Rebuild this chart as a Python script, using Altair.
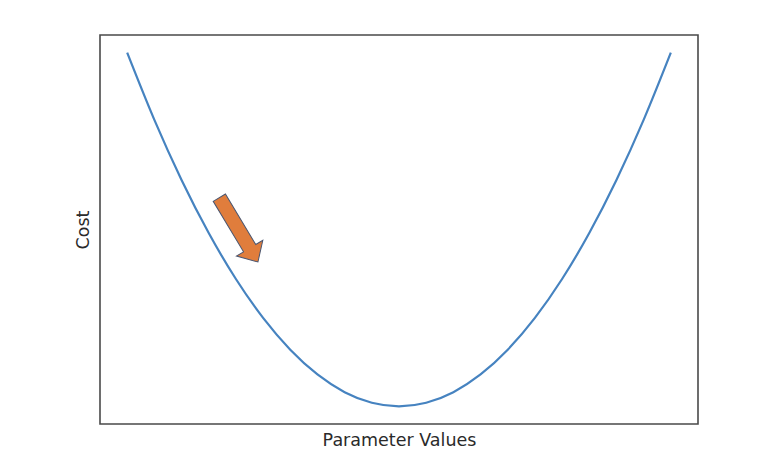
import altair as alt
import pandas as pd

# Curve readings (parameter value, cost)
param_values = [-10, -9, -8, -7, -6, -5, -4, -3, -2, -1, 0, 1, 2, 3, 4, 5, 6, 7, 8, 9, 10]
cost_values = [100, 81, 64, 49, 36, 25, 16, 9, 4, 1, 0, 1, 4, 9, 16, 25, 36, 49, 64, 81, 100]

# Arrow annotation (centre position in data units)
arrow_x = [-5.9]
arrow_y = [49.9]

curve_df = pd.DataFrame({"x": param_values, "y": cost_values})
arrow_df = pd.DataFrame({"x": arrow_x, "y": arrow_y})

x_scale = alt.Scale(domain=[-11, 11], nice=False, zero=False)
y_scale = alt.Scale(domain=[-5, 105], nice=False, zero=False)

x_axis = alt.Axis(title="Parameter Values", labels=False, ticks=False, grid=False,
                  domain=False, titlePadding=7)
y_axis = alt.Axis(title="Cost", labels=False, ticks=False, grid=False,
                  domain=False, titlePadding=8)

curve = alt.Chart(curve_df).mark_line(
    color="#4683c0", strokeWidth=2.2, interpolate="monotone"
).encode(
    x=alt.X("x:Q", scale=x_scale, axis=x_axis),
    y=alt.Y("y:Q", scale=y_scale, axis=y_axis),
)

arrow_path = "M -0.19 1 L 0.19 1 L 0.19 -0.57 L 0.41 -0.57 L 0 -1 L -0.41 -0.57 L -0.19 -0.57 Z"

arrow = alt.Chart(arrow_df).mark_point(
    shape=arrow_path, size=5625, angle=149, filled=True,
    fill="#e07d3c", fillOpacity=1, stroke="#4a5670", strokeWidth=1, opacity=1
).encode(
    x=alt.X("x:Q", scale=x_scale),
    y=alt.Y("y:Q", scale=y_scale),
)

chart = alt.layer(curve, arrow).properties(
    width=598, height=389,
    autosize=alt.AutoSizeParams(type="none"),
    padding={"left": 92, "top": 27, "right": 50, "bottom": 30},
).configure_view(
    stroke="#4a4a4a", strokeWidth=1.6
).configure_axis(
    titleFont="DejaVu Sans", titleFontSize=17.5, titleFontWeight="normal", titleColor="#2a2a2a"
)

chart.save("out.html", embed_options={"renderer": "svg", "actions": False})
